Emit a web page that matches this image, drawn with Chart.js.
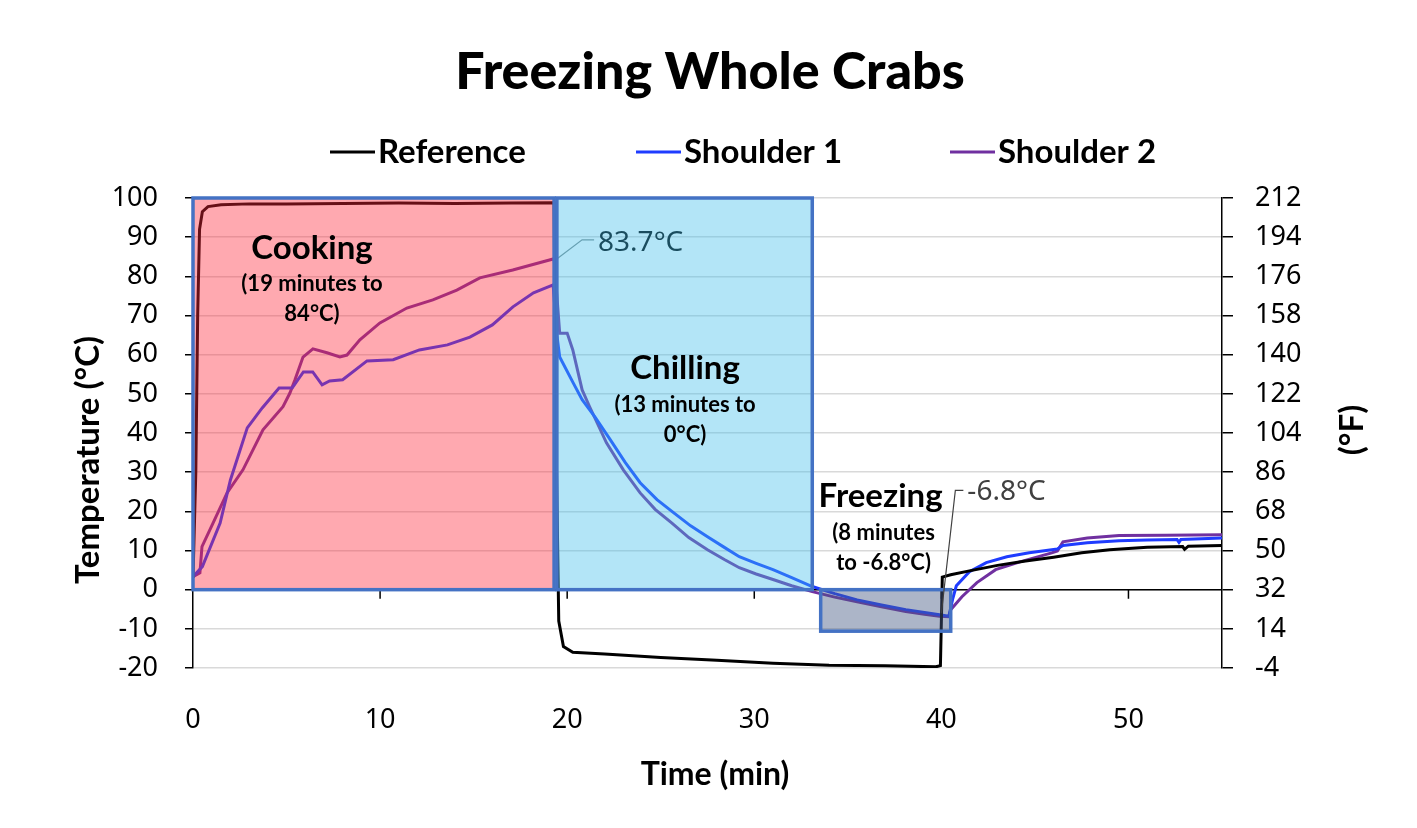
<!DOCTYPE html>
<html>
<head>
<meta charset="utf-8">
<script src="https://cdn.jsdelivr.net/npm/chart.js@4.4.1/dist/chart.umd.min.js"></script>
<style>
  html, body { margin: 0; background: #fff; }
</style>
</head>
<body>
<canvas id="chartCrabs" width="1417" height="828"></canvas>
<script>
// series (minutes, °C)
const refTime = [0, 0.15, 0.25, 0.35, 0.5, 0.8, 1.5, 3, 5, 8, 11, 14, 17, 19.3, 19.4, 19.55, 19.8, 20.3, 22, 25, 28, 31, 34, 37, 39.7, 39.95, 40.05, 40.5, 41.5, 43, 44.5, 46, 47.5, 49, 51, 52.9, 53.0, 53.2, 55];
const refTemp = [3, 30, 70, 92, 96.5, 97.8, 98.3, 98.5, 98.5, 98.6, 98.7, 98.6, 98.7, 98.8, 40, -8, -14.5, -16, -16.4, -17.3, -18, -18.8, -19.3, -19.4, -19.7, -19.4, 3.2, 3.8, 4.8, 6.2, 7.3, 8.3, 9.4, 10.2, 10.8, 11, 10.3, 11.1, 11.3];

const s1Time = [0, 0.5, 1.45, 2.0, 2.9, 3.7, 4.6, 5.3, 5.9, 6.4, 6.9, 7.3, 8.0, 9.3, 10.7, 12.1, 13.6, 14.8, 16.0, 17.1, 18.2, 19.25, 19.45, 19.6, 20.3, 20.8, 21.5, 22.3, 23.1, 23.9, 24.8, 25.7, 26.6, 27.5, 28.4, 29.2, 30.1, 31.0, 32.0, 33.1, 34.3, 35.5, 36.8, 38.1, 39.1, 39.9, 40.4, 40.6, 40.8, 41.5, 42.4, 43.5, 44.7, 45.9, 46.2, 46.5, 47.8, 49.5, 51, 52.6, 52.7, 52.8, 55];
const s1Temp = [3.3, 5.9, 17, 28, 41.3, 46.4, 51.5, 51.5, 55.6, 55.6, 52.3, 53.3, 53.6, 58.4, 58.7, 61.2, 62.5, 64.5, 67.6, 72.2, 75.8, 77.8, 65, 59.4, 53, 48.5, 44, 38.3, 32.5, 27.3, 23, 19.6, 16.3, 13.5, 10.8, 8.4, 6.7, 5.1, 3.1, 0.8, -1.0, -2.6, -3.9, -5.1, -5.8, -6.4, -6.8, -2.5, 1.0, 4.6, 6.9, 8.4, 9.4, 10.2, 10.4, 11.3, 12.0, 12.5, 12.7, 12.8, 12.1, 12.8, 13.2];

const s2Time = [0, 0.37, 0.48, 1.07, 1.82, 2.67, 3.74, 4.81, 5.18, 5.45, 5.88, 6.41, 7.16, 7.85, 8.23, 8.92, 9.99, 11.43, 12.82, 14.1, 15.33, 17.09, 19.3, 19.45, 19.6, 20.0, 20.3, 20.8, 21.2, 22.1, 23.0, 23.9, 24.7, 25.6, 26.5, 27.5, 28.4, 29.2, 30.1, 31.0, 32.0, 33.1, 34.3, 35.5, 36.8, 38.1, 39.1, 39.9, 40.4, 40.5, 41.1, 41.9, 42.9, 44.2, 45.9, 46.2, 46.5, 47.8, 49.5, 52, 55];
const s2Temp = [3.3, 4.3, 11, 17, 24.7, 30.6, 40.8, 46.7, 50.2, 53.6, 59.4, 61.5, 60.5, 59.4, 59.9, 63.8, 68.1, 71.9, 74, 76.5, 79.6, 81.6, 84.5, 75, 65.5, 65.5, 61.2, 51, 46.7, 37.5, 30.6, 24.7, 20.5, 17, 13.3, 10.2, 7.7, 5.6, 4, 2.6, 1.0, -0.5, -1.9, -3.1, -4.4, -5.6, -6.3, -6.8, -6.9, -5.1, -1.8, 1.8, 5.1, 7.1, 9.4, 9.9, 12.2, 13.2, 13.8, 13.9, 14];

const seriesNames = ['Reference', 'Shoulder 1', 'Shoulder 2'];
const seriesColors = ['#000000', '#1f3cff', '#7030a0'];

const xTicks = [0, 10, 20, 30, 40, 50];
const cTicks = [-20, -10, 0, 10, 20, 30, 40, 50, 60, 70, 80, 90, 100];
const fTicks = [-4, 14, 32, 50, 68, 86, 104, 122, 140, 158, 176, 194, 212];

// process phases: time span and temperature span of each shaded box
const phaseNames = ['Cooking', 'Chilling', 'Freezing'];
const phaseNotes = [['(19 minutes to', '84°C)'], ['(13 minutes to', '0°C)'], ['(8 minutes', 'to -6.8°C)']];
const phaseFrom = [0, 19.45, 33.55];
const phaseTo = [19.3, 33.1, 40.5];
const phaseLow = [0, 0, -10.6];
const phaseHigh = [100, 100, 0];
const phaseFill = ['rgba(255,40,58,0.4)', 'rgba(65,190,235,0.4)', 'rgba(70,92,132,0.45)'];

const calloutTime = [19.3, 40.0];
const calloutTemp = [83.7, -6.8];
const calloutText = ['83.7°C', '-6.8°C'];

function toPoints(ts, vs) { return ts.map((t, i) => ({x: t, y: vs[i]})); }

const decor = {
  id: 'decor',
  beforeDatasetsDraw(chart) {
    const {ctx, chartArea: a, scales: {x, y}} = chart;
    const y0 = y.getPixelForValue(0);
    ctx.save();
    ctx.strokeStyle = '#000';
    ctx.lineWidth = 1.5;
    ctx.beginPath();
    ctx.moveTo(a.left, y0); ctx.lineTo(a.right, y0);
    xTicks.slice(1).forEach(v => {
      const px = x.getPixelForValue(v);
      ctx.moveTo(px, y0); ctx.lineTo(px, y0 + 9);
    });
    ctx.stroke();
    ctx.restore();
  },
  afterDatasetsDraw(chart) {
    const {ctx, scales: {x, y}} = chart;
    ctx.save();
    // 83.7 callout sits under the chilling box tint
    let px = x.getPixelForValue(calloutTime[0]), py = y.getPixelForValue(calloutTemp[0]);
    ctx.strokeStyle = '#7f8c8d'; ctx.lineWidth = 1.2;
    ctx.beginPath(); ctx.moveTo(px + 3, py - 3); ctx.lineTo(px + 28, py - 22); ctx.lineTo(px + 40, py - 22); ctx.stroke();
    ctx.fillStyle = '#000'; ctx.font = '28px "Noto Sans"'; ctx.textBaseline = 'middle'; ctx.textAlign = 'left';
    ctx.fillText(calloutText[0], px + 44, py - 19);

    // shaded phase boxes
    phaseNames.forEach((n, i) => {
      const l = x.getPixelForValue(phaseFrom[i]), r = x.getPixelForValue(phaseTo[i]);
      const t = y.getPixelForValue(phaseHigh[i]), b = y.getPixelForValue(phaseLow[i]);
      ctx.fillStyle = phaseFill[i];
      ctx.fillRect(l, t, r - l, b - t);
      ctx.strokeStyle = '#4472c4'; ctx.lineWidth = 3.5;
      ctx.strokeRect(l, t, r - l, b - t);
    });

    // -6.8 callout
    px = x.getPixelForValue(calloutTime[1]); py = y.getPixelForValue(calloutTemp[1]);
    ctx.strokeStyle = '#404040'; ctx.lineWidth = 1.2;
    ctx.beginPath(); ctx.moveTo(px, py - 3); ctx.lineTo(px + 14, py - 126); ctx.lineTo(px + 22, py - 126); ctx.stroke();
    ctx.fillStyle = '#404040'; ctx.font = '28px "Noto Sans"';
    ctx.fillText(calloutText[1], px + 26, py - 124);

    // phase captions
    ctx.fillStyle = '#000'; ctx.textAlign = 'center';
    const capX = [6.36, 26.3, 36.75];
    const capY = [87.2, 56.4, 23.7];
    phaseNames.forEach((n, i) => {
      const cx = x.getPixelForValue(capX[i]), cy = y.getPixelForValue(capY[i]);
      ctx.font = 'bold 33px Lato';
      ctx.fillText(n, cx, cy);
      ctx.font = 'bold 22px Lato';
      ctx.fillText(phaseNotes[i][0], cx + (i === 2 ? 3 : 0), cy + 36);
      ctx.fillText(phaseNotes[i][1], cx + (i === 2 ? 3 : 0), cy + 66);
    });
    ctx.restore();
  },
  afterDraw(chart) {
    const {ctx} = chart;
    ctx.save();
    ctx.fillStyle = '#000';
    ctx.textBaseline = 'middle';
    ctx.textAlign = 'center';
    ctx.font = '900 52px Lato';
    ctx.fillText('Freezing Whole Crabs', 710, 72);

    // legend
    const legendX = [330, 636, 950];
    chart.data.datasets.forEach((ds, i) => {
      ctx.strokeStyle = ds.borderColor; ctx.lineWidth = 3;
      ctx.beginPath(); ctx.moveTo(legendX[i], 152); ctx.lineTo(legendX[i] + 45, 152); ctx.stroke();
      ctx.font = 'bold 33px Lato'; ctx.textAlign = 'left'; ctx.fillStyle = '#000';
      ctx.fillText(ds.label, legendX[i] + 48, 152);
    });

    // axis titles
    ctx.font = 'bold 32px Lato'; ctx.textAlign = 'center';
    ctx.fillText('Time (min)', 715, 775);
    ctx.font = 'bold 33px Lato';
    ctx.translate(88, 460); ctx.rotate(-Math.PI / 2);
    ctx.fillText('Temperature (°C)', 0, 0);
    ctx.setTransform(1, 0, 0, 1, 0, 0);
    ctx.translate(1352, 430); ctx.rotate(-Math.PI / 2);
    ctx.fillText('(°F)', 0, 0);
    ctx.restore();
  }
};

const ctx = document.getElementById('chartCrabs');
new Chart(ctx, {
  type: 'line',
  data: {
    datasets: [
      { label: seriesNames[0], data: toPoints(refTime, refTemp), borderColor: seriesColors[0] },
      { label: seriesNames[1], data: toPoints(s1Time, s1Temp), borderColor: seriesColors[1] },
      { label: seriesNames[2], data: toPoints(s2Time, s2Temp), borderColor: seriesColors[2] }
    ]
  },
  options: {
    responsive: false,
    animation: false,
    devicePixelRatio: 1,
    layout: { padding: { top: 198, left: 0, right: 0, bottom: 0 } },
    elements: {
      line: { borderWidth: 3, tension: 0 },
      point: { radius: 0 }
    },
    plugins: {
      legend: { display: false },
      title: { display: false },
      tooltip: { enabled: false }
    },
    scales: {
      x: {
        type: 'linear',
        min: 0, max: 55,
        afterFit: s => { s.height = 160; },
        grid: { display: false, drawTicks: false },
        border: { display: false },
        ticks: {
          stepSize: 10, includeBounds: false, padding: 36,
          color: '#000', font: { family: 'Noto Sans', size: 27 }
        }
      },
      y: {
        position: 'left',
        min: -20, max: 100,
        afterFit: s => { s.width = 193; },
        grid: { color: '#d9d9d9', lineWidth: 1.5, tickColor: '#000', tickLength: 8 },
        border: { display: true, color: '#000', width: 1.5 },
        ticks: {
          stepSize: 10, padding: 27,
          color: '#000', font: { family: 'Noto Sans', size: 27 }
        }
      },
      yF: {
        position: 'right',
        min: -20, max: 100,
        afterFit: s => { s.width = 195; },
        grid: { drawOnChartArea: false, tickColor: '#000', tickLength: 11, lineWidth: 1.5 },
        border: { display: true, color: '#000', width: 1.5 },
        ticks: {
          stepSize: 10, padding: 22,
          color: '#000', font: { family: 'Noto Sans', size: 27 },
          callback: v => fTicks[cTicks.indexOf(v)]
        }
      }
    }
  },
  plugins: [decor]
});
</script>
</body>
</html>
